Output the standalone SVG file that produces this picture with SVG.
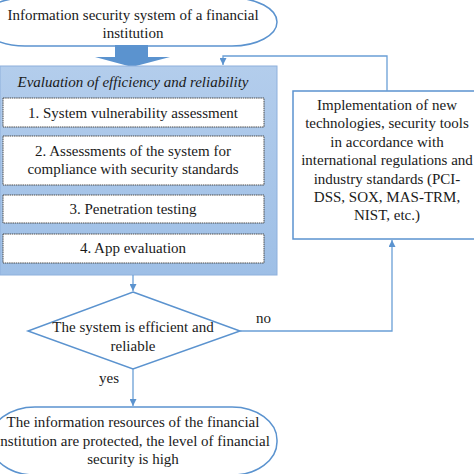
<svg xmlns="http://www.w3.org/2000/svg" width="474" height="474" viewBox="0 0 474 474">
<defs>
<linearGradient id="panelGrad" x1="0" y1="0" x2="0" y2="1">
<stop offset="0" stop-color="#b3cdec"/>
<stop offset="1" stop-color="#9ebfe6"/>
</linearGradient>
<marker id="arr" viewBox="0 0 10 10" refX="10" refY="5" markerWidth="7" markerHeight="7" orient="auto" markerUnits="userSpaceOnUse">
<path d="M0,0 L10,5 L0,10 z" fill="#5b93cf"/>
</marker>
</defs>
<style>
text{font-family:'Liberation Serif','Times New Roman',serif;font-size:15px;fill:#1a1a1a;text-anchor:middle}
.term{fill:#fff;stroke:#5b93cf;stroke-width:1.5}
.sub{fill:#fff;stroke:#4a4a4a;stroke-width:1;stroke-dasharray:1.5 0.7}
.box{fill:#fff;stroke:#5b93cf;stroke-width:1.5}
.line{fill:none;stroke:#6a9fd6;stroke-width:1.3}
.lbl{text-anchor:start}
</style>
<g id="start">
<rect class="term" x="-20" y="-2" width="297" height="48" rx="45" ry="24"/>
<text x="133" y="20">Information security system of a financial</text>
<text x="133" y="38">institution</text>
</g>
<g id="bigArrow">
<path d="M115,45 L148,45 L148,57 L170,57 L132,67 L95,57 L115,57 z" fill="#5b93cf"/>
</g>
<g id="evaluation">
<rect x="0" y="66" width="277" height="209" fill="url(#panelGrad)" stroke="#8eb0dc" stroke-width="1"/>
<text x="133" y="87" font-style="italic">Evaluation of efficiency and reliability</text>
</g>
<g id="step1">
<rect class="sub" x="3" y="98" width="261" height="29"/>
<text x="133" y="118">1. System vulnerability assessment</text>
</g>
<g id="step2">
<rect class="sub" x="3" y="136" width="261" height="49"/>
<text x="133" y="156">2. Assessments of the system for</text>
<text x="133" y="174">compliance with security standards</text>
</g>
<g id="step3">
<rect class="sub" x="3" y="195" width="261" height="28"/>
<text x="133" y="214">3. Penetration testing</text>
</g>
<g id="step4">
<rect class="sub" x="3" y="234" width="261" height="29"/>
<text x="133" y="253">4. App evaluation</text>
</g>
<g id="decision">
<polygon class="box" points="133,292 240,331 133,369 28,331"/>
<text x="133" y="332">The system is efficient and</text>
<text x="133" y="351">reliable</text>
</g>
<g id="implementation">
<rect class="box" x="293" y="91" width="200" height="148"/>
<text x="387" y="110">Implementation of new</text>
<text x="387" y="128">technologies, security tools</text>
<text x="387" y="147">in accordance with</text>
<text x="387" y="165">international regulations and</text>
<text x="387" y="184">industry standards (PCI-</text>
<text x="387" y="202">DSS, SOX, MAS-TRM,</text>
<text x="387" y="220">NIST, etc.)</text>
</g>
<g id="end">
<rect class="term" x="-10" y="407" width="287" height="68" rx="45" ry="33"/>
<text x="133" y="427">The information resources of the financial</text>
<text x="133" y="446">institution are protected, the level of financial</text>
<text x="133" y="464">security is high</text>
</g>
<g id="connectors">
<path class="line" d="M133,275 L133,291" marker-end="url(#arr)"/>
<path class="line" d="M240,331 L392,331 L392,240" marker-end="url(#arr)"/>
<path class="line" d="M387,91 L387,56 L223,56 L223,65" marker-end="url(#arr)"/>
<path class="line" d="M133,369 L133,406" marker-end="url(#arr)"/>
<text class="lbl" x="256" y="323">no</text>
<text class="lbl" x="99" y="383">yes</text>
</g>
</svg>
